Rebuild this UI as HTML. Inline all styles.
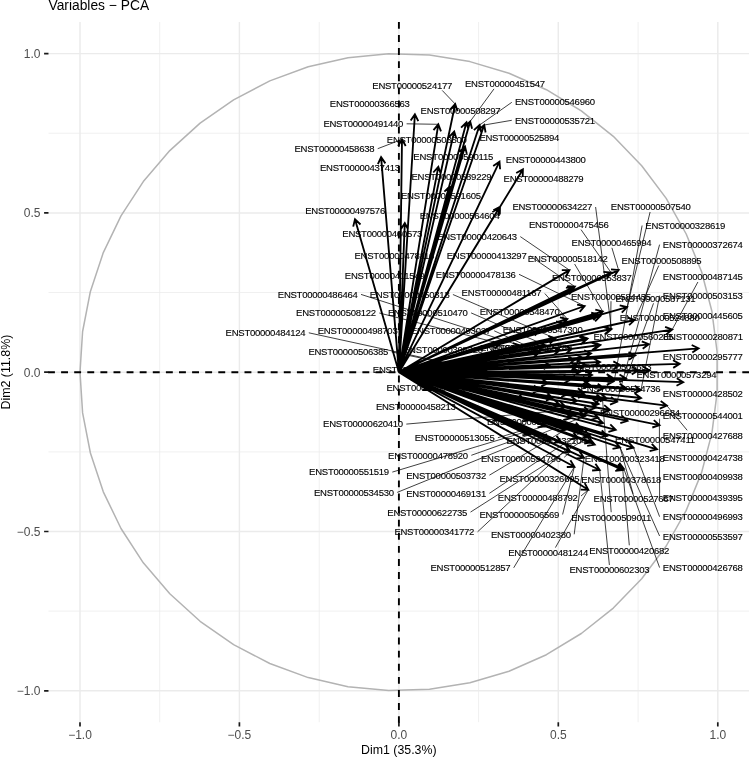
<!DOCTYPE html><html><head><meta charset="utf-8"><title>Variables - PCA</title>
<style>html,body{margin:0;padding:0;background:#fff}svg{display:block}text{font-family:"Liberation Sans",Arial,sans-serif}</style></head><body>
<svg width="749" height="758" viewBox="0 0 749 758">
<rect width="749" height="758" fill="#fff"/>
<path d="M159.7 22.0V722.2M48.5 611.1H749.0M319.2 22.0V722.2M48.5 451.9H749.0M478.6 22.0V722.2M48.5 292.5H749.0M638.1 22.0V722.2M48.5 133.2H749.0" stroke="#ebebeb" stroke-width="0.75" fill="none"/>
<path d="M80.0 22.0V722.2M48.5 690.8H749.0M239.4 22.0V722.2M48.5 531.5H749.0M398.9 22.0V722.2M48.5 372.2H749.0M558.3 22.0V722.2M48.5 212.9H749.0M717.8 22.0V722.2M48.5 53.6H749.0" stroke="#ebebeb" stroke-width="1.45" fill="none"/>
<polygon points="80.0,372.2 82.6,412.9 90.4,453.0 103.3,491.8 121.0,528.5 143.3,562.8 169.8,593.8 200.1,621.3 233.6,644.6 269.8,663.5 308.2,677.6 348.0,686.7 388.7,690.6 429.5,689.3 469.9,682.8 509.0,671.2 546.4,654.7 581.3,633.5 613.3,608.1 641.7,578.7 666.2,546.0 686.2,510.4 701.6,472.6 711.9,433.1 717.1,392.6 717.1,351.8 711.9,311.3 701.6,271.8 686.2,234.0 666.2,198.4 641.7,165.7 613.3,136.3 581.3,110.9 546.4,89.7 509.0,73.2 469.9,61.6 429.5,55.1 388.7,53.8 348.0,57.7 308.2,66.8 269.8,80.9 233.6,99.8 200.1,123.1 169.8,150.6 143.3,181.6 121.0,215.9 103.3,252.6 90.4,291.4 82.6,331.5 80.0,372.2" fill="none" stroke="#b3b3b3" stroke-width="1.5" stroke-linejoin="round"/>
<path d="M48.0 372.2H749.0" stroke="#000" stroke-width="1.9" stroke-dasharray="6.9 6.2" fill="none"/>
<path d="M398.9 723.1V22.0" stroke="#000" stroke-width="1.9" stroke-dasharray="6.9 6.2" fill="none"/>
<path d="M80.0 722.2v4.2M48.5 690.8h-4.4M239.4 722.2v4.2M48.5 531.5h-4.4M398.9 722.2v4.2M48.5 372.2h-4.4M558.3 722.2v4.2M48.5 212.9h-4.4M717.8 722.2v4.2M48.5 53.6h-4.4" stroke="#1a1a1a" stroke-width="1.7" fill="none"/>
<g font-size="12.0" fill="#4d4d4d">
<text x="80.0" y="739.3" text-anchor="middle">−1.0</text>
<text x="40.5" y="695.1" text-anchor="end">−1.0</text>
<text x="239.4" y="739.3" text-anchor="middle">−0.5</text>
<text x="40.5" y="535.8" text-anchor="end">−0.5</text>
<text x="398.9" y="739.3" text-anchor="middle">0.0</text>
<text x="40.5" y="376.5" text-anchor="end">0.0</text>
<text x="558.3" y="739.3" text-anchor="middle">0.5</text>
<text x="40.5" y="217.2" text-anchor="end">0.5</text>
<text x="717.8" y="739.3" text-anchor="middle">1.0</text>
<text x="40.5" y="57.9" text-anchor="end">1.0</text>
</g>
<text x="48.5" y="10.4" font-size="13.8" fill="#000">Variables − PCA</text>
<text x="398.8" y="754.3" font-size="12.35" fill="#000" text-anchor="middle">Dim1 (35.3%)</text>
<text transform="translate(9.7,372.1) rotate(-90)" font-size="12.4" fill="#000" text-anchor="middle">Dim2 (11.8%)</text>
<path d="M398.9 372.2L355.0 219.2M360.5 224.5L355.0 219.2L353.2 226.6M398.9 372.2L381.1 157.2M385.4 163.4L381.1 157.2L377.9 164.1M398.9 372.2L402.0 139.4M405.7 146.0L402.0 139.4L398.1 145.9M398.9 372.2L414.9 114.3M418.3 121.1L414.9 114.3L410.7 120.6M398.9 372.2L404.8 223.0M408.3 229.7L404.8 223.0L400.7 229.4M398.9 372.2L438.3 124.3M441.0 131.4L438.3 124.3L433.5 130.2M398.9 372.2L455.2 104.0M457.6 111.2L455.2 104.0L450.1 109.7M398.9 372.2L454.2 131.5M456.4 138.8L454.2 131.5L449.0 137.1M398.9 372.2L466.5 122.3M468.4 129.6L466.5 122.3L461.1 127.7M398.9 372.2L470.2 121.4M472.1 128.8L470.2 121.4L464.7 126.7M398.9 372.2L479.6 125.0M481.2 132.4L479.6 125.0L473.9 130.1M398.9 372.2L484.2 125.0M485.6 132.5L484.2 125.0L478.5 130.0M398.9 372.2L465.0 146.5M466.8 153.9L465.0 146.5L459.5 151.7M398.9 372.2L438.3 166.8M440.8 174.0L438.3 166.8L433.3 172.5M398.9 372.2L449.8 186.4M451.7 193.8L449.8 186.4L444.4 191.7M398.9 372.2L499.5 161.7M500.1 169.3L499.5 161.7L493.2 166.0M398.9 372.2L522.9 169.4M522.7 177.0L522.9 169.4L516.2 173.0M398.9 372.2L500.0 206.8M499.8 214.4L500.0 206.8L493.3 210.4M398.9 372.2L499.0 208.3M498.8 215.9L499.0 208.3L492.3 211.9M398.9 372.2L569.4 270.1M565.7 276.7L569.4 270.1L561.8 270.2M398.9 372.2L618.6 270.1M614.2 276.3L618.6 270.1L611.0 269.4M398.9 372.2L611.0 272.5M606.7 278.7L611.0 272.5L603.4 271.9M398.9 372.2L574.8 286.6M570.5 292.9L574.8 286.6L567.2 286.1M398.9 372.2L573.5 288.2M569.2 294.5L573.5 288.2L565.9 287.6M398.9 372.2L584.6 306.0M579.7 311.8L584.6 306.0L577.1 304.6M398.9 372.2L602.7 311.4M597.5 316.9L602.7 311.4L595.3 309.6M398.9 372.2L627.1 307.1M621.8 312.6L627.1 307.1L619.7 305.3M398.9 372.2L634.7 320.0M629.1 325.1L634.7 320.0L627.5 317.7M398.9 372.2L611.5 329.0M605.8 334.0L611.5 329.0L604.3 326.6M398.9 372.2L567.3 319.0M562.2 324.6L567.3 319.0L559.9 317.4M398.9 372.2L600.4 316.0M595.1 321.4L600.4 316.0L593.0 314.1M398.9 372.2L587.5 338.5M581.7 343.4L587.5 338.5L580.4 335.9M398.9 372.2L648.8 344.3M642.7 348.8L648.8 344.3L641.8 341.3M398.9 372.2L600.4 344.9M594.4 349.5L600.4 344.9L593.4 342.0M398.9 372.2L555.5 338.5M549.9 343.6L555.5 338.5L548.3 336.2M398.9 372.2L672.2 329.6M666.3 334.4L672.2 329.6L665.1 326.9M398.9 372.2L698.6 348.3M692.3 352.6L698.6 348.3L691.7 345.0M398.9 372.2L679.7 363.9M673.2 367.9L679.7 363.9L673.0 360.3M398.9 372.2L683.2 382.2M676.5 385.8L683.2 382.2L676.8 378.2M398.9 372.2L666.8 405.6M659.8 408.6L666.8 405.6L660.7 401.0M398.9 372.2L659.5 425.1M652.3 427.5L659.5 425.1L653.8 420.1M398.9 372.2L657.0 449.3M649.6 451.1L657.0 449.3L651.8 443.8M398.9 372.2L641.0 398.0M634.1 401.1L641.0 398.0L634.9 393.5M398.9 372.2L623.8 468.8M616.3 469.7L623.8 468.8L619.3 462.7M398.9 372.2L622.8 470.0M615.2 470.8L622.8 470.0L618.3 463.9M398.9 372.2L633.5 447.8M626.1 449.4L633.5 447.8L628.4 442.2M398.9 372.2L620.0 447.3M612.5 448.8L620.0 447.3L615.0 441.6M398.9 372.2L615.7 429.8M608.4 431.8L615.7 429.8L610.3 424.4M398.9 372.2L627.5 420.8M620.3 423.1L627.5 420.8L621.9 415.7M398.9 372.2L599.7 470.0M592.1 470.5L599.7 470.0L595.4 463.7M398.9 372.2L635.3 355.5M629.0 359.8L635.3 355.5L628.5 352.2M398.9 372.2L649.7 370.5M643.1 374.3L649.7 370.5L643.1 366.7M398.9 372.2L614.4 380.0M607.7 383.6L614.4 380.0L608.0 376.0M398.9 372.2L613.5 381.5M606.8 385.0L613.5 381.5L607.1 377.4M398.9 372.2L586.5 339.6M580.7 344.5L586.5 339.6L579.4 337.0M398.9 372.2L598.2 345.4M592.2 350.0L598.2 345.4L591.2 342.5M398.9 372.2L591.0 353.5M584.8 357.9L591.0 353.5L584.1 350.4M398.9 372.2L613.2 378.1M606.5 381.7L613.2 378.1L606.7 374.1M398.9 372.2L598.2 417.6M590.9 419.8L598.2 417.6L592.6 412.4M398.9 372.2L581.1 428.3M573.7 430.0L581.1 428.3L575.9 422.7M398.9 372.2L591.8 442.2M584.3 443.5L591.8 442.2L586.9 436.4M398.9 372.2L570.4 451.8M562.8 452.5L570.4 451.8L566.0 445.6M398.9 372.2L568.3 394.1M561.3 397.0L568.3 394.1L562.3 389.5M398.9 372.2L606.8 398.4M599.8 401.3L606.8 398.4L600.7 393.8M398.9 372.2L617.0 401.8M610.0 404.7L617.0 401.8L611.0 397.1M398.9 372.2L596.5 407.5M589.4 410.1L596.5 407.5L590.7 402.6M398.9 372.2L594.7 444.5M587.2 445.8L594.7 444.5L589.8 438.7M398.9 372.2L584.0 457.8M576.4 458.5L584.0 457.8L579.6 451.6M398.9 372.2L574.4 466.8M566.8 467.0L574.4 466.8L570.4 460.3M398.9 372.2L588.3 489.8M580.7 489.6L588.3 489.8L584.7 483.1M398.9 372.2L598.6 314.5M593.3 320.0L598.6 314.5L591.2 312.7M398.9 372.2L563.3 323.3M558.1 328.8L563.3 323.3L555.9 321.5M398.9 372.2L610.5 329.3M604.8 334.3L610.5 329.3L603.3 326.9M398.9 372.2L560.0 350.0M554.0 354.7L560.0 350.0L553.0 347.1M398.9 372.2L575.0 360.0M568.7 364.2L575.0 360.0L568.2 356.7M398.9 372.2L580.0 372.0M573.4 375.8L580.0 372.0L573.4 368.2M398.9 372.2L590.0 385.0M583.2 388.4L590.0 385.0L583.7 380.8M398.9 372.2L570.0 380.0M563.3 383.5L570.0 380.0L563.6 375.9M398.9 372.2L585.0 395.0M578.0 398.0L585.0 395.0L578.9 390.4M398.9 372.2L560.0 405.0M552.8 407.4L560.0 405.0L554.3 400.0M398.9 372.2L575.0 415.0M567.7 417.1L575.0 415.0L569.5 409.8M398.9 372.2L565.0 430.0M557.5 431.4L565.0 430.0L560.0 424.2M398.9 372.2L550.0 440.0M542.4 440.8L550.0 440.0L545.6 433.8M398.9 372.2L540.0 330.0M534.8 335.5L540.0 330.0L532.6 328.2M398.9 372.2L545.0 345.0M539.2 349.9L545.0 345.0L537.8 342.5M398.9 372.2L550.0 365.0M543.6 369.1L550.0 365.0L543.2 361.5M398.9 372.2L540.0 390.0M533.0 392.9L540.0 390.0L533.9 385.4M398.9 372.2L530.0 420.0M522.5 421.3L530.0 420.0L525.1 414.2M398.9 372.2L520.0 345.5M514.4 350.6L520.0 345.5L512.8 343.2M398.9 372.2L525.0 400.0M517.8 402.3L525.0 400.0L519.4 394.9M398.9 372.2L500.0 420.0M492.4 420.6L500.0 420.0L495.7 413.8M398.9 372.2L420.0 372.0M413.5 375.9L420.0 372.0L413.4 368.3M398.9 372.2L430.0 390.0M422.4 390.0L430.0 390.0L426.2 383.4M398.9 372.2L440.0 362.0M434.5 367.3L440.0 362.0L432.7 359.9M398.9 372.2L487.0 371.6M480.4 375.4L487.0 371.6L480.4 367.8M398.9 372.2L500.0 343.5M494.7 349.0L500.0 343.5L492.6 341.6M398.9 372.2L540.0 352.0M534.0 356.7L540.0 352.0L532.9 349.2M398.9 372.2L583.0 431.0M575.6 432.6L583.0 431.0L577.9 425.4M398.9 372.2L585.0 416.0M577.7 418.2L585.0 416.0L579.5 410.8M398.9 372.2L545.0 426.0M537.5 427.3L545.0 426.0L540.1 420.2M398.9 372.2L530.0 434.5M522.4 435.1L530.0 434.5L525.7 428.2M398.9 372.2L525.0 429.7M517.4 430.4L525.0 429.7L520.6 423.5M398.9 372.2L602.5 399.0M595.5 401.9L602.5 399.0L596.5 394.4M398.9 372.2L572.0 349.0M566.0 353.6L572.0 349.0L565.0 346.1M398.9 372.2L583.0 358.0M576.7 362.3L583.0 358.0L576.1 354.7M398.9 372.2L578.0 366.0M571.6 370.0L578.0 366.0L571.3 362.4M398.9 372.2L589.4 380.7M582.7 384.2L589.4 380.7L583.0 376.6M398.9 372.2L586.0 365.4M579.6 369.4L586.0 365.4L579.3 361.8M398.9 372.2L584.0 392.8M577.0 395.8L584.0 392.8L577.9 388.3M398.9 372.2L598.7 404.0M591.6 406.7L598.7 404.0L592.8 399.2M398.9 372.2L641.0 390.0M634.2 393.3L641.0 390.0L634.7 385.7M398.9 372.2L626.0 378.5M619.3 382.1L626.0 378.5L619.5 374.5M398.9 372.2L638.3 370.6M631.7 374.4L638.3 370.6L631.7 366.8M398.9 372.2L592.0 375.0M585.4 378.7L592.0 375.0L585.5 371.1M398.9 372.2L604.0 388.0M597.1 391.3L604.0 388.0L597.7 383.7M398.9 372.2L577.0 401.0M569.9 403.7L577.0 401.0L571.1 396.2M398.9 372.2L590.0 412.0M582.8 414.4L590.0 412.0L584.3 406.9M398.9 372.2L603.0 423.0M595.7 425.1L603.0 423.0L597.5 417.7M398.9 372.2L571.0 418.0M563.7 420.0L571.0 418.0L565.6 412.6M398.9 372.2L590.0 436.0M582.6 437.5L590.0 436.0L585.0 430.3M398.9 372.2L578.0 438.0M570.5 439.3L578.0 438.0L573.1 432.2M398.9 372.2L561.0 442.0M553.5 442.9L561.0 442.0L556.5 435.9M398.9 372.2L607.0 436.0M599.6 437.7L607.0 436.0L601.8 430.4M398.9 372.2L566.0 407.0M558.8 409.4L566.0 407.0L560.3 401.9M398.9 372.2L553.0 398.0M545.9 400.7L553.0 398.0L547.1 393.2M398.9 372.2L548.0 383.0M541.2 386.3L548.0 383.0L541.7 378.7M398.9 372.2L600.0 362.0M593.6 366.1L600.0 362.0L593.2 358.5M398.9 372.2L620.0 365.0M613.5 369.0L620.0 365.0L613.3 361.4M398.9 372.2L626.0 388.0M619.2 391.3L626.0 388.0L619.7 383.8M398.9 372.2L610.0 410.0M602.9 412.6L610.0 410.0L604.2 405.1" stroke="#000" stroke-width="1.85" fill="none" stroke-linejoin="miter" stroke-linecap="butt"/>
<path d="M442.2 90.4L455.2 104.0M406.6 123.8L438.3 124.3M377.7 148.7L402.0 139.4M494.0 88.9L470.2 121.4M511.8 102.3L479.6 125.0M511.8 120.3L484.2 125.0M595.6 207.0L611.5 329.0M581.0 229.6L611.0 272.5M361.0 294.4L520.0 345.5M452.9 294.5L555.5 338.5M379.3 313.0L500.0 343.5M471.1 312.9L545.0 345.0M308.8 332.8L487.0 371.6M391.6 351.9L440.0 362.0M494.2 330.8L540.0 352.0M520.3 236.6L569.4 270.1M529.9 255.8L574.8 286.6M519.0 274.3L584.6 306.0M544.8 293.5L567.3 319.0M562.9 313.4L563.3 323.3M650.1 212.0L627.1 307.1M642.1 225.5L614.4 380.0M611.9 247.8L618.6 270.1M659.6 244.6L617.0 401.8M574.6 264.0L602.7 311.4M658.8 265.5L634.7 320.0M697.9 282.0L672.2 329.6M611.0 301.2L610.5 329.3M653.5 303.3L626.0 378.5M659.6 295.6L641.0 390.0M659.6 418.6L659.5 425.1M687.2 430.3L666.8 405.6M633.1 493.8L620.0 447.3M659.6 497.7L659.4 425.1M611.2 512.2L602.5 399.0M659.6 516.7L633.5 447.8M659.6 536.0L620.0 447.3M629.3 545.3L622.8 470.0M609.4 565.0L599.7 470.0M659.6 567.6L623.8 468.8M406.3 424.1L596.5 407.5M497.9 437.7L525.0 429.7M471.3 455.3L530.0 434.5M392.3 472.1L545.0 426.0M489.4 475.2L565.0 430.0M397.2 492.4L585.0 416.0M489.4 493.3L583.0 431.0M470.5 512.1L590.0 436.0M477.6 531.8L578.0 438.0M564.2 457.3L570.4 451.8M581.0 496.0L588.3 489.8M562.6 514.5L574.4 466.8M574.2 534.3L584.0 457.8M555.4 547.6L588.3 489.8M513.7 567.8L574.4 466.8" stroke="#000" stroke-width="0.75" fill="none"/>
<g font-size="9.55" fill="#000" stroke="#000" stroke-width="0.12" text-anchor="middle">
<text x="412.3" y="88.7" textLength="80" lengthAdjust="spacing">ENST00000524177</text>
<text x="369.8" y="107.1" textLength="80" lengthAdjust="spacing">ENST00000366563</text>
<text x="363.4" y="127.1" textLength="80" lengthAdjust="spacing">ENST00000491440</text>
<text x="426.8" y="142.7" textLength="80" lengthAdjust="spacing">ENST00000503500</text>
<text x="334.5" y="152.3" textLength="80" lengthAdjust="spacing">ENST00000458638</text>
<text x="360.0" y="171.2" textLength="80" lengthAdjust="spacing">ENST00000437413</text>
<text x="345.2" y="213.7" textLength="80" lengthAdjust="spacing">ENST00000497576</text>
<text x="505.0" y="87.2" textLength="80" lengthAdjust="spacing">ENST00000451547</text>
<text x="460.6" y="113.9" textLength="80" lengthAdjust="spacing">ENST00000508297</text>
<text x="555.0" y="105.3" textLength="80" lengthAdjust="spacing">ENST00000546960</text>
<text x="555.0" y="123.5" textLength="80" lengthAdjust="spacing">ENST00000535721</text>
<text x="519.4" y="141.3" textLength="80" lengthAdjust="spacing">ENST00000525894</text>
<text x="453.3" y="159.8" textLength="80" lengthAdjust="spacing">ENST00000590115</text>
<text x="451.5" y="179.5" textLength="80" lengthAdjust="spacing">ENST00000589229</text>
<text x="441.0" y="198.9" textLength="80" lengthAdjust="spacing">ENST00000591605</text>
<text x="459.7" y="219.0" textLength="80" lengthAdjust="spacing">ENST00000564604</text>
<text x="545.8" y="162.6" textLength="80" lengthAdjust="spacing">ENST00000443800</text>
<text x="543.6" y="181.8" textLength="80" lengthAdjust="spacing">ENST00000488279</text>
<text x="552.4" y="210.1" textLength="80" lengthAdjust="spacing">ENST00000634227</text>
<text x="568.9" y="227.9" textLength="80" lengthAdjust="spacing">ENST00000475456</text>
<text x="382.3" y="236.5" textLength="80" lengthAdjust="spacing">ENST00000460573</text>
<text x="394.4" y="258.7" textLength="80" lengthAdjust="spacing">ENST00000478116</text>
<text x="384.8" y="278.9" textLength="80" lengthAdjust="spacing">ENST00000411549</text>
<text x="317.8" y="297.7" textLength="80" lengthAdjust="spacing">ENST00000486464</text>
<text x="409.7" y="297.7" textLength="80" lengthAdjust="spacing">ENST00000450313</text>
<text x="336.1" y="316.3" textLength="80" lengthAdjust="spacing">ENST00000508122</text>
<text x="427.9" y="316.1" textLength="80" lengthAdjust="spacing">ENST00000510470</text>
<text x="265.6" y="336.1" textLength="80" lengthAdjust="spacing">ENST00000484124</text>
<text x="357.7" y="334.4" textLength="80" lengthAdjust="spacing">ENST00000498703</text>
<text x="348.4" y="355.1" textLength="80" lengthAdjust="spacing">ENST00000506385</text>
<text x="451.0" y="333.9" textLength="80" lengthAdjust="spacing">ENST00000493027</text>
<text x="477.1" y="239.7" textLength="80" lengthAdjust="spacing">ENST00000420643</text>
<text x="486.7" y="258.9" textLength="80" lengthAdjust="spacing">ENST00000413297</text>
<text x="475.8" y="277.5" textLength="80" lengthAdjust="spacing">ENST00000478136</text>
<text x="501.6" y="296.3" textLength="80" lengthAdjust="spacing">ENST00000481167</text>
<text x="519.7" y="314.6" textLength="80" lengthAdjust="spacing">ENST00000548470</text>
<text x="542.7" y="332.8" textLength="80" lengthAdjust="spacing">ENST00000547300</text>
<text x="443.0" y="352.5" textLength="80" lengthAdjust="spacing">ENST00000398320</text>
<text x="532.0" y="351.3" textLength="80" lengthAdjust="spacing">ENST00000465789</text>
<text x="650.8" y="210.3" textLength="80" lengthAdjust="spacing">ENST00000507540</text>
<text x="685.3" y="228.6" textLength="80" lengthAdjust="spacing">ENST00000328619</text>
<text x="611.6" y="246.1" textLength="80" lengthAdjust="spacing">ENST00000465994</text>
<text x="702.8" y="247.8" textLength="80" lengthAdjust="spacing">ENST00000372674</text>
<text x="567.8" y="262.3" textLength="80" lengthAdjust="spacing">ENST00000518142</text>
<text x="661.6" y="263.8" textLength="80" lengthAdjust="spacing">ENST00000508895</text>
<text x="591.9" y="281.3" textLength="80" lengthAdjust="spacing">ENST00000553837</text>
<text x="702.8" y="280.3" textLength="80" lengthAdjust="spacing">ENST00000487145</text>
<text x="611.0" y="299.5" textLength="80" lengthAdjust="spacing">ENST00000584435</text>
<text x="655.5" y="301.6" textLength="80" lengthAdjust="spacing">ENST00000587131</text>
<text x="702.8" y="298.6" textLength="80" lengthAdjust="spacing">ENST00000503153</text>
<text x="659.7" y="320.9" textLength="80" lengthAdjust="spacing">ENST00000524880</text>
<text x="702.8" y="319.4" textLength="80" lengthAdjust="spacing">ENST00000445605</text>
<text x="633.5" y="339.7" textLength="80" lengthAdjust="spacing">ENST00000560285</text>
<text x="703.0" y="339.5" textLength="80" lengthAdjust="spacing">ENST00000280871</text>
<text x="702.8" y="360.4" textLength="80" lengthAdjust="spacing">ENST00000295777</text>
<text x="611.5" y="370.3" textLength="80" lengthAdjust="spacing">ENST00000503653</text>
<text x="676.5" y="377.7" textLength="80" lengthAdjust="spacing">ENST00000573294</text>
<text x="620.6" y="392.3" textLength="80" lengthAdjust="spacing">ENST00000554736</text>
<text x="702.8" y="397.4" textLength="80" lengthAdjust="spacing">ENST00000428502</text>
<text x="640.0" y="415.6" textLength="80" lengthAdjust="spacing">ENST00000296684</text>
<text x="702.8" y="419.2" textLength="80" lengthAdjust="spacing">ENST00000544001</text>
<text x="702.8" y="438.6" textLength="80" lengthAdjust="spacing">ENST00000427688</text>
<text x="655.1" y="442.8" textLength="80" lengthAdjust="spacing">ENST00000547411</text>
<text x="624.8" y="461.5" textLength="80" lengthAdjust="spacing">ENST00000323418</text>
<text x="702.8" y="461.1" textLength="80" lengthAdjust="spacing">ENST00000424738</text>
<text x="621.3" y="482.9" textLength="80" lengthAdjust="spacing">ENST00000378618</text>
<text x="702.8" y="479.8" textLength="80" lengthAdjust="spacing">ENST00000409938</text>
<text x="633.6" y="502.1" textLength="80" lengthAdjust="spacing">ENST00000527667</text>
<text x="702.8" y="501.3" textLength="80" lengthAdjust="spacing">ENST00000439395</text>
<text x="611.2" y="520.5" textLength="80" lengthAdjust="spacing">ENST00000509011</text>
<text x="702.8" y="520.3" textLength="80" lengthAdjust="spacing">ENST00000496993</text>
<text x="702.8" y="539.5" textLength="80" lengthAdjust="spacing">ENST00000553597</text>
<text x="629.3" y="553.6" textLength="80" lengthAdjust="spacing">ENST00000420682</text>
<text x="609.5" y="573.3" textLength="80" lengthAdjust="spacing">ENST00000602303</text>
<text x="702.8" y="571.1" textLength="80" lengthAdjust="spacing">ENST00000426768</text>
<text x="412.8" y="372.9" textLength="80" lengthAdjust="spacing">ENST00000532818</text>
<text x="426.5" y="390.8" textLength="80" lengthAdjust="spacing">ENST00000504320</text>
<text x="415.9" y="410.1" textLength="80" lengthAdjust="spacing">ENST00000458213</text>
<text x="363.1" y="427.4" textLength="80" lengthAdjust="spacing">ENST00000620410</text>
<text x="454.7" y="441.2" textLength="80" lengthAdjust="spacing">ENST00000513055</text>
<text x="428.1" y="458.7" textLength="80" lengthAdjust="spacing">ENST00000478920</text>
<text x="349.1" y="475.4" textLength="80" lengthAdjust="spacing">ENST00000551519</text>
<text x="446.2" y="478.6" textLength="80" lengthAdjust="spacing">ENST00000503732</text>
<text x="354.0" y="495.7" textLength="80" lengthAdjust="spacing">ENST00000534530</text>
<text x="446.2" y="496.7" textLength="80" lengthAdjust="spacing">ENST00000469131</text>
<text x="427.3" y="515.5" textLength="80" lengthAdjust="spacing">ENST00000622735</text>
<text x="434.4" y="535.2" textLength="80" lengthAdjust="spacing">ENST00000341772</text>
<text x="546.6" y="443.7" textLength="80" lengthAdjust="spacing">ENST00000432104</text>
<text x="521.0" y="462.1" textLength="80" lengthAdjust="spacing">ENST00000594796</text>
<text x="539.5" y="481.8" textLength="80" lengthAdjust="spacing">ENST00000326695</text>
<text x="537.8" y="500.6" textLength="80" lengthAdjust="spacing">ENST00000488792</text>
<text x="519.4" y="518.3" textLength="80" lengthAdjust="spacing">ENST00000506569</text>
<text x="531.0" y="537.9" textLength="80" lengthAdjust="spacing">ENST00000402380</text>
<text x="548.2" y="555.9" textLength="80" lengthAdjust="spacing">ENST00000481244</text>
<text x="470.5" y="571.3" textLength="80" lengthAdjust="spacing">ENST00000512857</text>
<text x="527.0" y="425.2" textLength="80" lengthAdjust="spacing">ENST00000517336</text>
<text x="520.0" y="351.3" textLength="80" lengthAdjust="spacing">ENST00000561123</text>
</g>
</svg></body></html>
